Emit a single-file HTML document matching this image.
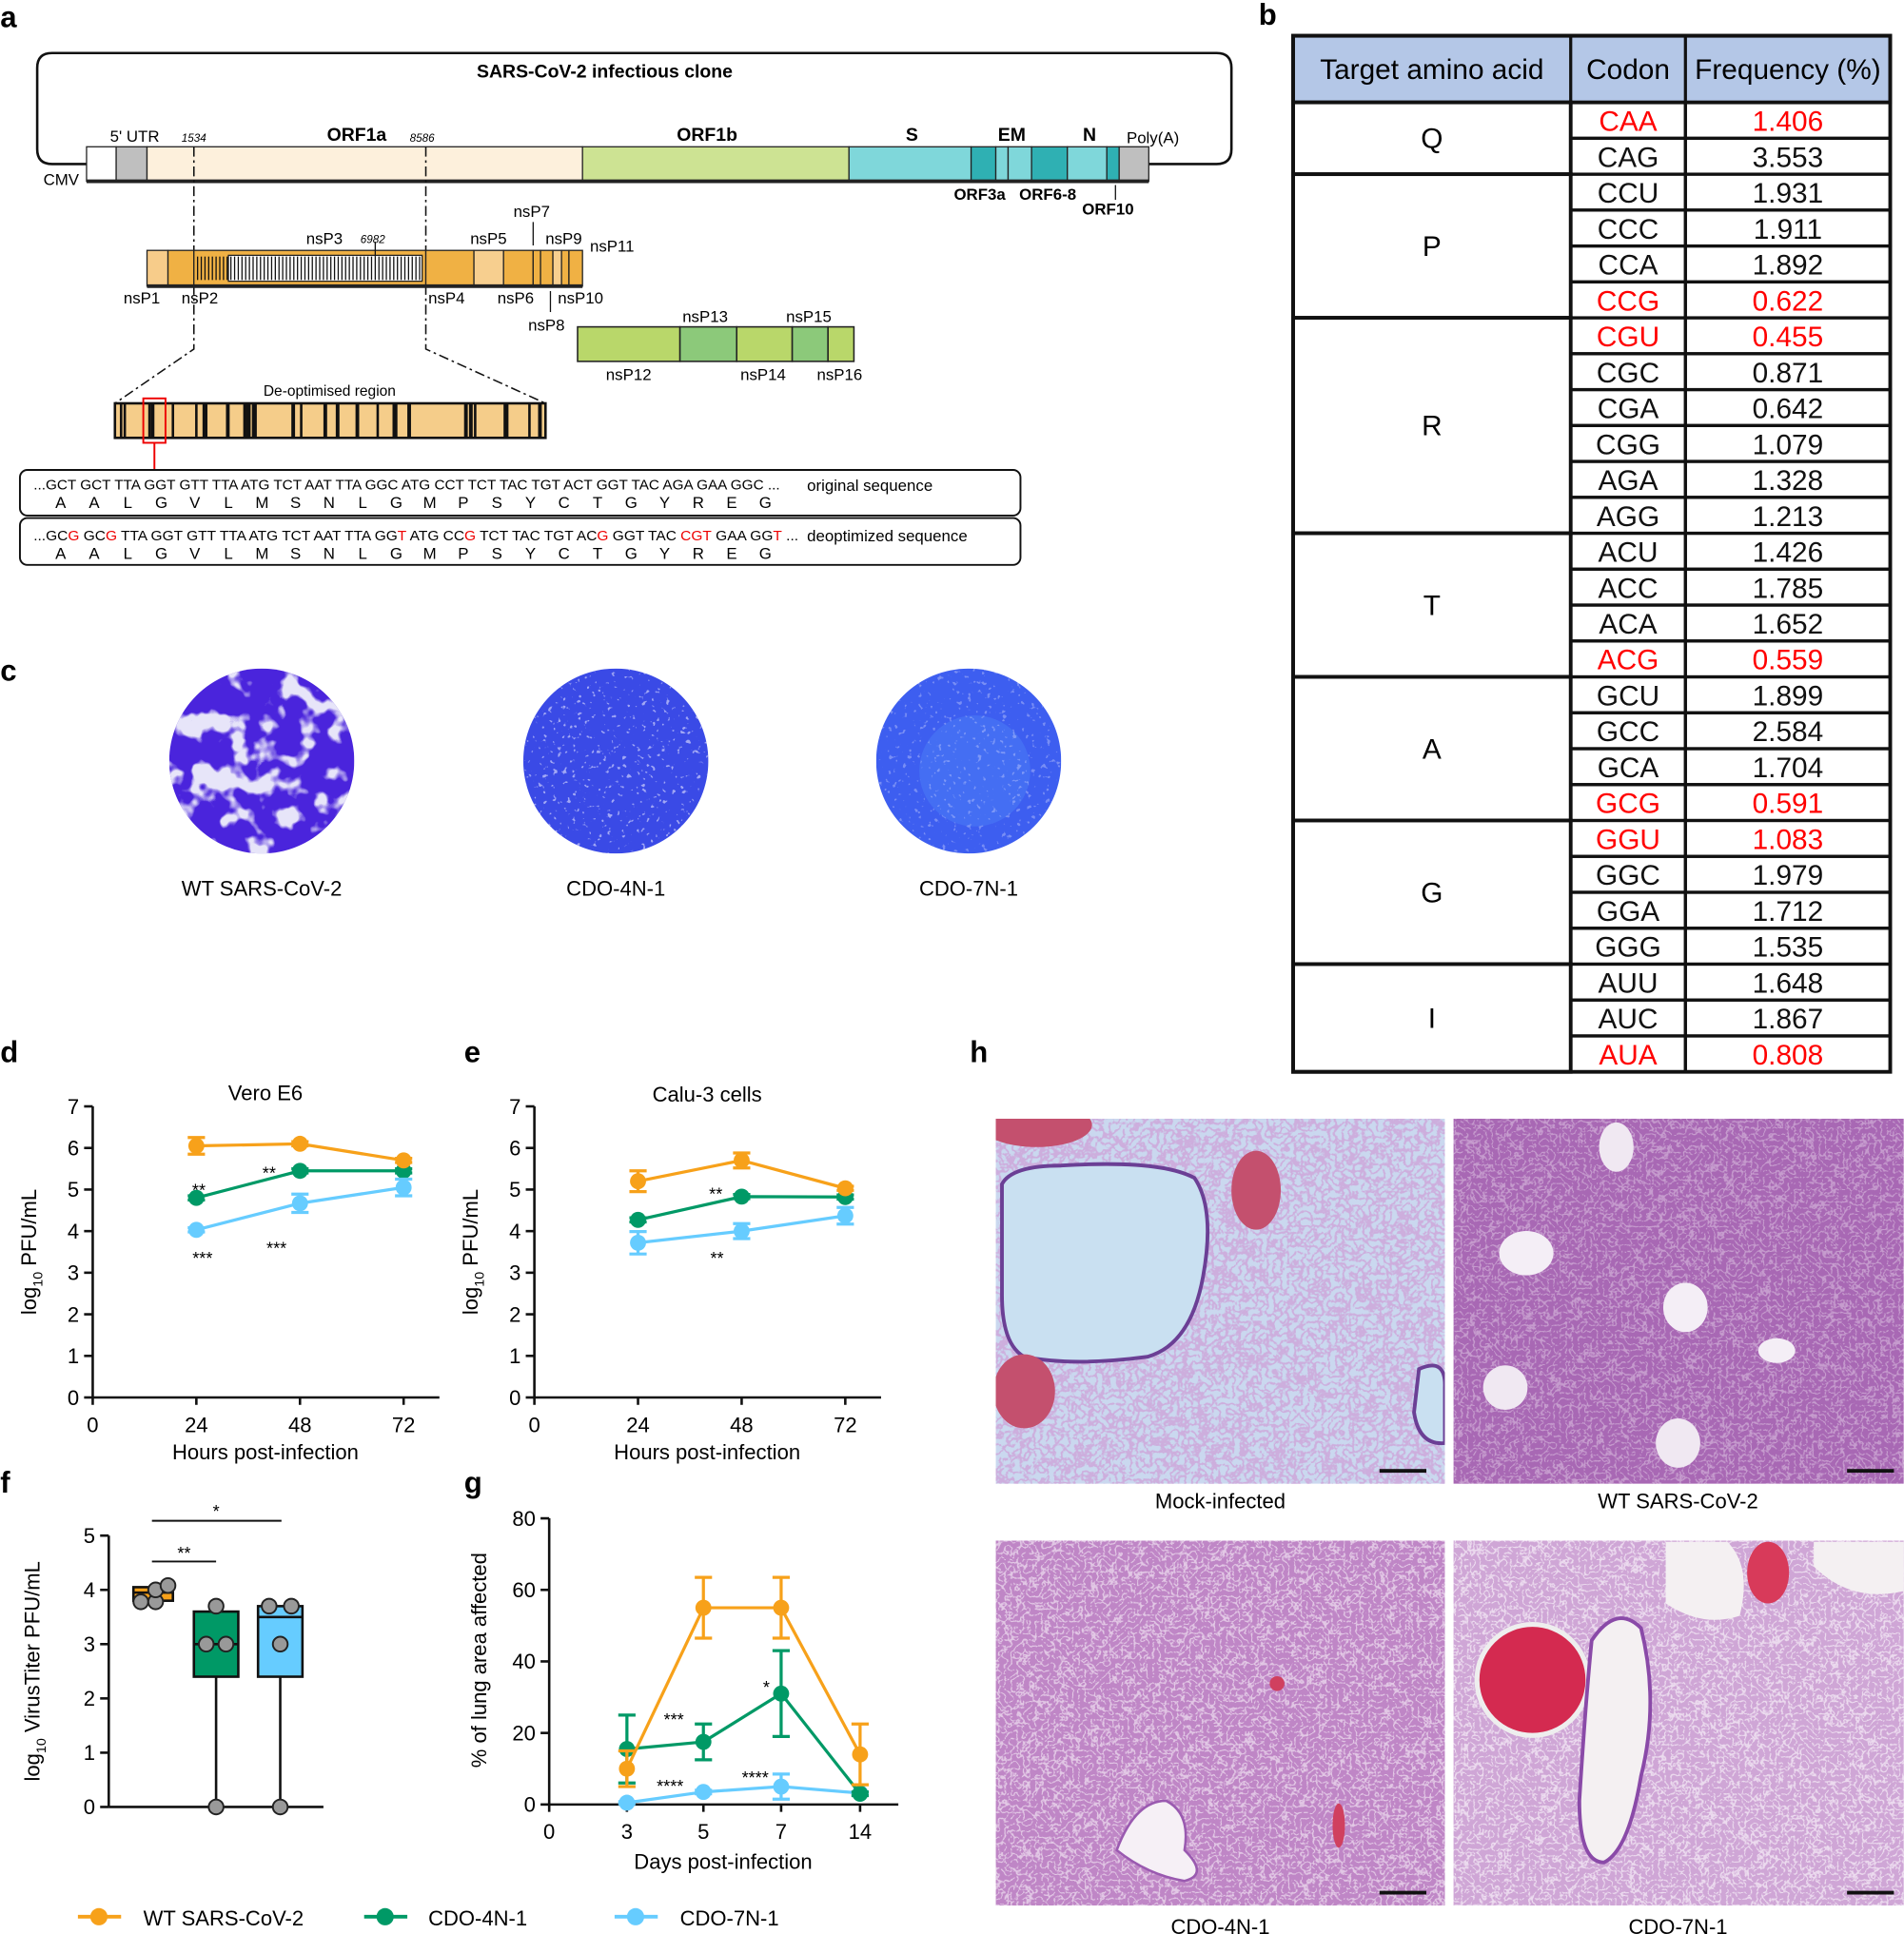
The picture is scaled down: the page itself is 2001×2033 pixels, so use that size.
<!DOCTYPE html>
<html><head><meta charset="utf-8"><style>
html,body{margin:0;padding:0;background:#fff}
svg{display:block}
text{font-family:"Liberation Sans",Arial,sans-serif}
</style></head><body>
<svg id="fig" width="2001" height="2033" viewBox="0 0 1543 1568" xmlns="http://www.w3.org/2000/svg">
<defs>
<filter id="blobs" x="0" y="0" width="100%" height="100%"><feTurbulence type="fractalNoise" baseFrequency="0.045" numOctaves="3" seed="3"/><feColorMatrix type="matrix" values="0 0 0 0 0.8  0 0 0 0 0.78  0 0 0 0 0.95  9 0 0 0 -4.6"/></filter>
<filter id="specks" x="0" y="0" width="100%" height="100%"><feTurbulence type="fractalNoise" baseFrequency="0.25" numOctaves="2" seed="7"/><feColorMatrix type="matrix" values="0 0 0 0 0.8  0 0 0 0 0.8  0 0 0 0 1  14 0 0 0 -9.2"/></filter>
<filter id="mesh" x="0" y="0" width="100%" height="100%"><feTurbulence type="turbulence" baseFrequency="0.18" numOctaves="2" seed="2"/><feColorMatrix type="matrix" values="0 0 0 0 0.62  0 0 0 0 0.35  0 0 0 0 0.68  -6 0 0 0 1.9"/></filter>
<filter id="mesh2" x="0" y="0" width="100%" height="100%"><feTurbulence type="turbulence" baseFrequency="0.2" numOctaves="2" seed="5"/><feColorMatrix type="matrix" values="0 0 0 0 1  0 0 0 0 1  0 0 0 0 1  -7 0 0 0 1.6"/></filter>
<clipPath id="c1"><circle cx="212" cy="617" r="75"/></clipPath>
<clipPath id="c2"><circle cx="499" cy="617" r="75"/></clipPath>
<clipPath id="c3"><circle cx="785" cy="617" r="75"/></clipPath>
<clipPath id="h1"><rect x="807" y="907" width="364" height="296"/></clipPath>
<clipPath id="h2"><rect x="1178" y="907" width="365" height="296"/></clipPath>
<clipPath id="h3"><rect x="807" y="1249" width="364" height="296"/></clipPath>
<clipPath id="h4"><rect x="1178" y="1249" width="365" height="296"/></clipPath>
</defs>

<!-- Panel a -->
<g>
<text x="0" y="22" font-size="24" font-weight="bold">a</text>
<path d="M70 133 H42 Q30 133 30 121 V55 Q30 43 42 43 H986 Q998 43 998 55 V121 Q998 133 986 133 H930" fill="none" stroke="#111" stroke-width="2"/>
<text x="490" y="63" font-size="15" font-weight="bold" text-anchor="middle">SARS-CoV-2 infectious clone</text>
<g stroke="#222" stroke-width="1">
<rect x="70" y="119" width="24" height="28" fill="#fff"/>
<rect x="94" y="119" width="25" height="28" fill="#bfbfbf"/>
<rect x="119" y="119" width="353" height="28" fill="#fdf0dc"/>
<rect x="472" y="119" width="216" height="28" fill="#cde393"/>
<rect x="688" y="119" width="99" height="28" fill="#7fd7da"/>
<rect x="787" y="119" width="20" height="28" fill="#2fb0b3"/>
<rect x="807" y="119" width="10" height="28" fill="#7fd7da"/>
<rect x="817" y="119" width="19" height="28" fill="#7fd7da"/>
<rect x="836" y="119" width="29" height="28" fill="#2fb0b3"/>
<rect x="865" y="119" width="32" height="28" fill="#7fd7da"/>
<rect x="897" y="119" width="10" height="28" fill="#2fb0b3"/>
<rect x="907" y="119" width="24" height="28" fill="#bfbfbf"/>
<line x1="70" y1="147" x2="931" y2="147" stroke-width="3"/>
</g>
<g font-size="13">
<text x="89" y="115">5' UTR</text>
<text x="147" y="115" font-size="9" font-style="italic">1534</text>
<text x="289" y="114" font-weight="bold" font-size="15" text-anchor="middle">ORF1a</text>
<text x="332" y="115" font-size="9" font-style="italic">8586</text>
<text x="573" y="114" font-weight="bold" font-size="15" text-anchor="middle">ORF1b</text>
<text x="739" y="114" font-weight="bold" font-size="15" text-anchor="middle">S</text>
<text x="820" y="114" font-weight="bold" font-size="15" text-anchor="middle">EM</text>
<text x="883" y="114" font-weight="bold" font-size="15" text-anchor="middle">N</text>
<text x="913" y="116">Poly(A)</text>
<text x="35" y="150">CMV</text>
<text x="773" y="162" font-weight="bold">ORF3a</text>
<text x="826" y="162" font-weight="bold">ORF6-8</text>
<text x="877" y="174" font-weight="bold">ORF10</text>
</g>
<line x1="904" y1="150" x2="904" y2="162" stroke="#111"/>
<g stroke="#111" stroke-width="1.2" stroke-dasharray="8 3 2 3" fill="none">
<path d="M157 119 V283 L93 327"/><path d="M345 119 V283 L442 327"/>
</g>
<g stroke="#222" stroke-width="1">
<rect x="119" y="203" width="17" height="29" fill="#f7cc8a"/>
<rect x="136" y="203" width="21" height="29" fill="#f0b144"/>
<rect x="157" y="203" width="188" height="29" fill="#f0b144"/>
<rect x="185" y="207" width="157" height="21" fill="#fff"/>
<rect x="345" y="203" width="39" height="29" fill="#f0b144"/>
<rect x="384" y="203" width="24" height="29" fill="#f7cf8f"/>
<rect x="408" y="203" width="24" height="29" fill="#f0b144"/>
<rect x="432" y="203" width="6" height="29" fill="#f0b144"/>
<rect x="438" y="203" width="10" height="29" fill="#f0b144"/>
<rect x="448" y="203" width="7" height="29" fill="#f7cf8f"/>
<rect x="455" y="203" width="6" height="29" fill="#f0b144"/>
<rect x="461" y="203" width="11" height="29" fill="#f0b144"/>
<line x1="119" y1="232" x2="472" y2="232" stroke-width="3"/>
</g>
<g id="hatch" stroke="#111" stroke-width="1"></g>
<line x1="304" y1="196" x2="304" y2="208" stroke="#111"/>
<g font-size="13">
<text x="248" y="198">nsP3</text><text x="292" y="197" font-size="9" font-style="italic">6982</text>
<text x="381" y="198">nsP5</text><text x="416" y="176">nsP7</text><text x="442" y="198">nsP9</text><text x="478" y="204">nsP11</text>
<text x="100" y="246">nsP1</text><text x="147" y="246">nsP2</text><text x="347" y="246">nsP4</text><text x="403" y="246">nsP6</text><text x="452" y="246">nsP10</text><text x="428" y="268">nsP8</text>
<text x="553" y="261">nsP13</text><text x="637" y="261">nsP15</text><text x="491" y="308">nsP12</text><text x="600" y="308">nsP14</text><text x="662" y="308">nsP16</text>
</g>
<line x1="432" y1="180" x2="432" y2="199" stroke="#111"/>
<line x1="446" y1="236" x2="446" y2="253" stroke="#111"/>
<g stroke="#222" stroke-width="1.2">
<rect x="468" y="265" width="83" height="28" fill="#b9d76a"/>
<rect x="551" y="265" width="46" height="28" fill="#8cc97a"/>
<rect x="597" y="265" width="45" height="28" fill="#b9d76a"/>
<rect x="642" y="265" width="29" height="28" fill="#8cc97a"/>
<rect x="671" y="265" width="21" height="28" fill="#b9d76a"/>
</g>
<text x="267" y="321" font-size="12" text-anchor="middle">De-optimised region</text>
<rect x="93" y="327" width="349" height="28" fill="#f5cd8a" stroke="#111" stroke-width="2"/>
<g id="stripes" fill="#111"></g>
<rect x="116" y="323" width="18" height="36" fill="none" stroke="#e00" stroke-width="1.5"/>
<line x1="125" y1="359" x2="125" y2="381" stroke="#e00" stroke-width="1.5"/>
<rect x="16" y="381" width="811" height="37" rx="6" fill="#fff" stroke="#111" stroke-width="1.5"/>
<rect x="16" y="420" width="811" height="38" rx="6" fill="#fff" stroke="#111" stroke-width="1.5"/>
<text x="27" y="397" font-size="11.5" textLength="605" lengthAdjust="spacingAndGlyphs">...GCT GCT  TTA GGT GTT TTA ATG TCT AAT TTA GGC ATG CCT TCT TAC TGT ACT GGT TAC AGA GAA GGC ...</text>
<text x="654" y="398" font-size="13">original sequence</text>
<text x="27" y="438" font-size="11.5" textLength="620" lengthAdjust="spacingAndGlyphs">...GC<tspan fill="#e00">G</tspan> GC<tspan fill="#e00">G</tspan> TTA GGT GTT TTA ATG TCT AAT TTA GG<tspan fill="#e00">T</tspan> ATG CC<tspan fill="#e00">G</tspan> TCT TAC TGT AC<tspan fill="#e00">G</tspan> GGT TAC <tspan fill="#e00">CGT</tspan> GAA GG<tspan fill="#e00">T</tspan> ...</text>
<text x="654" y="439" font-size="13">deoptimized sequence</text>
<g id="aa" font-size="13" text-anchor="middle"></g>
</g>

<!-- Panel b -->
<g>
<text x="1020" y="20" font-size="24" font-weight="bold">b</text>
<g id="table"></g>
</g>

<!-- Panel c -->
<g>
<text x="0" y="552" font-size="24" font-weight="bold">c</text>
<g clip-path="url(#c1)"><rect x="137" y="542" width="150" height="150" fill="#4a24dc"/><rect x="137" y="542" width="150" height="150" filter="url(#blobs)"/></g>
<g clip-path="url(#c2)"><rect x="424" y="542" width="150" height="150" fill="#3a4ae6"/><rect x="424" y="542" width="150" height="150" filter="url(#specks)" opacity="0.6"/></g>
<g clip-path="url(#c3)"><rect x="710" y="542" width="150" height="150" fill="#3d5ef0"/><circle cx="790" cy="625" r="45" fill="#4a7af5" opacity="0.6"/><rect x="710" y="542" width="150" height="150" filter="url(#specks)" opacity="0.35"/></g>
<g font-size="17" text-anchor="middle">
<text x="212" y="726">WT SARS-CoV-2</text><text x="499" y="726">CDO-4N-1</text><text x="785" y="726">CDO-7N-1</text></g>
</g>

<text x="0" y="861" font-size="24" font-weight="bold">d</text>
<text x="376" y="861" font-size="24" font-weight="bold">e</text>
<text x="0" y="1210" font-size="24" font-weight="bold">f</text>
<text x="376" y="1210" font-size="24" font-weight="bold">g</text>
<text x="786" y="861" font-size="24" font-weight="bold">h</text>
<g id="charts"></g>

<!-- Panel h -->
<g>
<g clip-path="url(#h1)">
<rect x="807" y="907" width="364" height="296" fill="#cad8ef"/>
<rect x="807" y="907" width="364" height="296" filter="url(#mesh)" opacity="0.75"/>
<path d="M812 960 Q820 945 860 945 Q940 940 968 955 Q985 980 975 1035 Q965 1090 930 1100 Q870 1108 830 1100 Q812 1090 812 1050 Z" fill="#c9e0f1" stroke="#6b3f95" stroke-width="3"/>
<ellipse cx="1018" cy="965" rx="20" ry="32" fill="#c4506e"/>
<ellipse cx="830" cy="1128" rx="25" ry="30" fill="#c4506e"/>
<ellipse cx="840" cy="912" rx="45" ry="18" fill="#c4506e"/>
<path d="M1150 1110 Q1172 1100 1171 1125 V1170 Q1150 1172 1146 1145 Z" fill="#c9e0f1" stroke="#6b3f95" stroke-width="3"/>
<rect x="1118" y="1191" width="38" height="3" fill="#111"/>
</g>
<g clip-path="url(#h2)">
<rect x="1178" y="907" width="365" height="296" fill="#a868b4"/>
<rect x="1178" y="907" width="365" height="296" filter="url(#mesh2)" opacity="0.35"/>
<ellipse cx="1237" cy="1016" rx="22" ry="18" fill="#f4eef6"/><ellipse cx="1366" cy="1060" rx="18" ry="20" fill="#f4eef6"/><ellipse cx="1220" cy="1125" rx="18" ry="18" fill="#f0e8f2"/><ellipse cx="1310" cy="930" rx="14" ry="20" fill="#f0e8f2"/><ellipse cx="1360" cy="1170" rx="18" ry="20" fill="#f0e8f2"/><ellipse cx="1440" cy="1095" rx="15" ry="10" fill="#f4eef6"/>
<rect x="1497" y="1191" width="38" height="3" fill="#111"/>
</g>
<g clip-path="url(#h3)">
<rect x="807" y="1249" width="364" height="296" fill="#bf86c6"/>
<rect x="807" y="1249" width="364" height="296" filter="url(#mesh2)" opacity="0.55"/>
<path d="M905 1500 Q920 1460 945 1460 Q965 1470 960 1500 Q980 1520 960 1525 Q930 1520 905 1500 Z" fill="#f6f0f6" stroke="#9a5ab0" stroke-width="2"/>
<circle cx="1035" cy="1365" r="6" fill="#d0405f"/><ellipse cx="1085" cy="1480" rx="5" ry="18" fill="#d0405f"/>
<rect x="1118" y="1533" width="38" height="3" fill="#111"/>
</g>
<g clip-path="url(#h4)">
<rect x="1178" y="1249" width="365" height="296" fill="#cfa6d6"/>
<rect x="1178" y="1249" width="365" height="296" filter="url(#mesh2)" opacity="0.6"/>
<circle cx="1242" cy="1362" r="45" fill="#d42a50" stroke="#eee" stroke-width="4"/>
<path d="M1290 1330 Q1310 1300 1330 1320 Q1345 1380 1330 1440 Q1320 1500 1300 1510 Q1280 1510 1280 1460 Q1285 1380 1290 1330 Z" fill="#f4f0f2" stroke="#8a4aa8" stroke-width="3"/>
<path d="M1350 1250 H1400 Q1420 1270 1410 1310 Q1380 1320 1350 1300 Z" fill="#f4f0f2"/>
<path d="M1470 1250 H1543 V1290 Q1500 1300 1470 1270 Z" fill="#f4f0f2"/>
<ellipse cx="1433" cy="1275" rx="17" ry="25" fill="#d83a5a"/>
<rect x="1497" y="1533" width="38" height="3" fill="#111"/>
</g>
<g font-size="17" text-anchor="middle">
<text x="989" y="1223">Mock-infected</text><text x="1360" y="1223">WT SARS-CoV-2</text><text x="989" y="1568">CDO-4N-1</text><text x="1360" y="1568">CDO-7N-1</text></g>
</g>
</svg>
<script>
// ---- data ----
var tableGroups = ["Q","P","R","T","A","G","I"];
var tableCodons = [["CAA","CAG"],["CCU","CCC","CCA","CCG"],["CGU","CGC","CGA","CGG","AGA","AGG"],["ACU","ACC","ACA","ACG"],["GCU","GCC","GCA","GCG"],["GGU","GGC","GGA","GGG"],["AUU","AUC","AUA"]];
var tableFreq = [["1.406","3.553"],["1.931","1.911","1.892","0.622"],["0.455","0.871","0.642","1.079","1.328","1.213"],["1.426","1.785","1.652","0.559"],["1.899","2.584","1.704","0.591"],["1.083","1.979","1.712","1.535"],["1.648","1.867","0.808"]];
var tableRed = [["CAA"],["CCG"],["CGU"],["ACG"],["GCG"],["GGU"],["AUA"]];
var aminoLetters = ["A","A","L","G","V","L","M","S","N","L","G","M","P","S","Y","C","T","G","Y","R","E","G"];

var hoursCats = [24, 48, 72];
var veroWT = [6.05, 6.1, 5.7];
var vero4N = [4.8, 5.45, 5.45];
var vero7N = [4.03, 4.67, 5.05];
var veroWTerr = [0.2, 0.05, 0.05];
var vero4Nerr = [0.05, 0.05, 0.05];
var vero7Nerr = [0.05, 0.22, 0.2];
var caluWT = [5.2, 5.7, 5.03];
var calu4N = [4.27, 4.83, 4.82];
var calu7N = [3.72, 4.0, 4.37];
var caluWTerr = [0.25, 0.18, 0.05];
var calu4Nerr = [0.05, 0.05, 0.05];
var calu7Nerr = [0.27, 0.18, 0.2];
var logTicks = [0,1,2,3,4,5,6,7];
var hourTicks = [0,24,48,72];

var boxGroups = ["WT","4N","7N"];
var boxQ1 = [3.8, 2.4, 2.4];
var boxMed = [3.95, 3.0, 3.5];
var boxQ3 = [4.05, 3.6, 3.7];
var boxMin = [3.78, 0, 0];
var boxMax = [4.08, 3.7, 3.7];
var boxPoints = [[3.78,3.78,4.0,4.08],[3.7,3.0,3.0,0],[3.7,3.7,3.0,0]];
var boxTicks = [0,1,2,3,4,5];

var dayCats = ["3","5","7","14"];
var lungWT = [10, 55, 55, 14];
var lungWTerr = [5, 8.5, 8.5, 8.5];
var lung4N = [15.5, 17.5, 31, 3];
var lung4Nerr = [9.5, 5, 12, 0.5];
var lung7N = [0.5, 3.5, 5, 3.2];
var lung7Nerr = [0.3, 0.5, 3.5, 0.3];
var lungTicks = [0,20,40,60,80];

var colWT="#f7a11a", col4N="#009966", col7N="#66ccff";
var NS="http://www.w3.org/2000/svg";
function mk(tag, attrs, parent, txt){var e=document.createElementNS(NS,tag);for(var k in attrs)e.setAttribute(k,attrs[k]);if(txt!==undefined)e.textContent=txt;(parent||document.getElementById('charts')).appendChild(e);return e;}

var hatch=document.getElementById('hatch');
for(var hx=160;hx<342;hx+=3){mk('line',{x1:hx,y1:208,x2:hx,y2:227},hatch);}
var stripeX=[97,100,120,122,139,158,164,183,197,200,204,236,243,262,272,288,305,318,330,376,380,384,408,428,436];
var stripeW=[2,2,2,3,2,2,4,3,3,3,4,3,2,3,3,3,2,4,3,3,3,2,4,2,3];
var st=document.getElementById('stripes');
for(var s=0;s<stripeX.length;s++){mk('rect',{x:stripeX[s],y:327,width:stripeW[s],height:28},st);}
var aaX0=49, aaDX=27.2, aag=document.getElementById('aa');
aminoLetters.forEach(function(l,i){mk('text',{x:aaX0+i*aaDX,y:412},aag,l);mk('text',{x:aaX0+i*aaDX,y:453},aag,l);});

(function(){
var t=document.getElementById('table');
var x0=1048,x1=1273,x2=1366,x3=1532,y0=29,yh=83,rh=(869-83)/27;
var hdr=mk('rect',{x:x0,y:y0,width:x3-x0,height:yh-y0,fill:"#b4c7e7",stroke:"#111","stroke-width":3},t);


mk('line',{x1:x1,y1:y0,x2:x1,y2:yh,stroke:"#111","stroke-width":2.5},t);
mk('line',{x1:x2,y1:y0,x2:x2,y2:yh,stroke:"#111","stroke-width":2.5},t);
var hs=[["Target amino acid",(x0+x1)/2],["Codon",(x1+x2)/2],["Frequency (%)",(x2+x3)/2]];
hs.forEach(function(h){mk('text',{x:h[1],y:64,"font-size":23,"text-anchor":"middle"},t,h[0]);});
var r=0;
tableGroups.forEach(function(g,gi){
  var n=tableCodons[gi].length, gy=yh+r*rh;
  var gr=mk('rect',{x:x0,y:gy,width:x1-x0,height:n*rh,fill:"#fff",stroke:"#111","stroke-width":3},t);
  
  
  mk('text',{x:(x0+x1)/2,y:gy+n*rh/2+8,"font-size":23,"text-anchor":"middle"},t,g);
  tableCodons[gi].forEach(function(c,ci){
    var y=yh+(r+ci)*rh, red=tableRed[gi].indexOf(c)>=0, col=red?"#ff0000":"#111";
    mk('rect',{x:x1,y:y,width:x2-x1,height:rh,fill:"none",stroke:"#111","stroke-width":2.5},t);
    mk('rect',{x:x2,y:y,width:x3-x2,height:rh,fill:"none",stroke:"#111","stroke-width":2.5},t);
    mk('text',{x:(x1+x2)/2,y:y+rh-6,"font-size":23,"text-anchor":"middle",fill:col},t,c);
    mk('text',{x:(x2+x3)/2,y:y+rh-6,"font-size":23,"text-anchor":"middle",fill:col},t,tableFreq[gi][ci]);
  });
  r+=n;
});
mk('rect',{x:x0,y:y0,width:x3-x0,height:869-y0,fill:"none",stroke:"#111","stroke-width":3},t);
})();

function axes(g,ax){
  mk('line',{x1:ax.x0,y1:ax.yTop,x2:ax.x0,y2:ax.y0,stroke:"#111","stroke-width":2},g);
  mk('line',{x1:ax.x0,y1:ax.y0,x2:ax.xEnd,y2:ax.y0,stroke:"#111","stroke-width":2},g);
  ax.yticks.forEach(function(v){var y=ax.ys(v);mk('line',{x1:ax.x0-7,y1:y,x2:ax.x0,y2:y,stroke:"#111","stroke-width":2},g);mk('text',{x:ax.x0-11,y:y+6,"font-size":17,"text-anchor":"end"},g,String(v));});
}
function series(g,xs,vals,errs,col,name){
  var sg=mk('g',{},g);
  
  
  var pts=vals.map(function(v,i){return [xs[i],v];});
  mk('polyline',{points:pts.map(function(p){return p[0]+","+p[1].y;}).join(" "),fill:"none",stroke:col,"stroke-width":2.5},sg);
  pts.forEach(function(p){
    if(p[1].lo!==undefined){mk('line',{x1:p[0],y1:p[1].lo,x2:p[0],y2:p[1].hi,stroke:col,"stroke-width":2.5},sg);
      [p[1].lo,p[1].hi].forEach(function(yy){mk('line',{x1:p[0]-7,y1:yy,x2:p[0]+7,y2:yy,stroke:col,"stroke-width":2.5},sg);});}
    var c=mk('circle',{cx:p[0],cy:p[1].y,r:6.5,fill:col},sg);
    
    
  });
}
function lineChart(cfg){
  var g=mk('g',{});
  
  
  var x0=cfg.x0,y0=1133,yTop=897,xEnd=cfg.x0+281;
  var ys=function(v){return y0-(v/7)*(y0-yTop);};
  var xs=function(h){return x0+h*3.5;};
  axes(g,{x0:x0,y0:y0,yTop:yTop,xEnd:xEnd,ys:ys,yticks:logTicks});
  hourTicks.forEach(function(h){var x=xs(h);mk('line',{x1:x,y1:y0,x2:x,y2:y0+6,stroke:"#111","stroke-width":2},g);mk('text',{x:x,y:1161,"font-size":17,"text-anchor":"middle"},g,String(h));});
  mk('text',{x:x0+140,y:1183,"font-size":17,"text-anchor":"middle"},g,"Hours post-infection");
  mk('text',{x:x0+140,y:cfg.titleY,"font-size":17,"text-anchor":"middle"},g,cfg.title);
  var yt=mk('text',{transform:"translate("+(x0-46)+",1015) rotate(-90)","font-size":17,"text-anchor":"middle"},g);
  yt.innerHTML='log<tspan font-size="11" dy="5">10</tspan><tspan dy="-5"> PFU/mL</tspan>';
  var X=hoursCats.map(xs);
  [[cfg.s4N,cfg.e4N,col4N,"series-cdo-4n-1"],[cfg.s7N,cfg.e7N,col7N,"series-cdo-7n-1"],[cfg.sWT,cfg.eWT,colWT,"series-wt"]].forEach(function(s){
    series(g,X,s[0].map(function(v,i){return {y:ys(v),lo:ys(v-s[1][i]),hi:ys(v+s[1][i])};}),null,s[2],s[3]);
  });
  cfg.stars.forEach(function(st){mk('text',{x:st[0],y:st[1],"font-size":14,"text-anchor":"middle"},g,st[2]);});
}
lineChart({name:"chart-vero-e6",x0:75,title:"Vero E6",titleY:892,sWT:veroWT,s4N:vero4N,s7N:vero7N,eWT:veroWTerr,e4N:vero4Nerr,e7N:vero7Nerr,stars:[[161,970,"**"],[218,956,"**"],[164,1025,"***"],[224,1017,"***"]]});
lineChart({name:"chart-calu-3",x0:433,title:"Calu-3 cells",titleY:893,sWT:caluWT,s4N:calu4N,s7N:calu7N,eWT:caluWTerr,e4N:calu4Nerr,e7N:calu7Nerr,stars:[[580,973,"**"],[581,1025,"**"]]});

(function(){
  var g=mk('g',{});
  
  
  var x0=88,y0=1465,yTop=1245;
  var ys=function(v){return y0-(v/5)*(y0-yTop);};
  axes(g,{x0:x0,y0:y0,yTop:yTop,xEnd:262,ys:ys,yticks:boxTicks});
  var cx=[124,175,227],w=[32,36,36],fills=[colWT,col4N,col7N];
  boxGroups.forEach(function(b,i){
    var bg=mk('g',{},g);
    
    
    mk('line',{x1:cx[i],y1:ys(boxMin[i]),x2:cx[i],y2:ys(boxMax[i]),stroke:"#111","stroke-width":2},bg);
    mk('rect',{x:cx[i]-w[i]/2,y:ys(boxQ3[i]),width:w[i],height:ys(boxQ1[i])-ys(boxQ3[i]),fill:fills[i],stroke:"#111","stroke-width":2},bg);
    mk('line',{x1:cx[i]-w[i]/2,y1:ys(boxMed[i]),x2:cx[i]+w[i]/2,y2:ys(boxMed[i]),stroke:"#111","stroke-width":2},bg);
    var pts=boxPoints[i], offs=i==0?[-10,2,2,12]:[0,-8,8,0];
    if(i==2) offs=[-9,9,0,0];
    pts.forEach(function(v,j){mk('circle',{cx:cx[i]+offs[j],cy:ys(v),r:6,fill:"#999",stroke:"#222","stroke-width":1.5},bg);});
  });
  mk('line',{x1:123,y1:1233,x2:228,y2:1233,stroke:"#111","stroke-width":1.5},g);
  mk('text',{x:175,y:1230,"font-size":14,"text-anchor":"middle"},g,"*");
  mk('line',{x1:123,y1:1266,x2:175,y2:1266,stroke:"#111","stroke-width":1.5},g);
  mk('text',{x:149,y:1264,"font-size":14,"text-anchor":"middle"},g,"**");
  var yt=mk('text',{transform:"translate(32,1355) rotate(-90)","font-size":17,"text-anchor":"middle"},g);
  yt.innerHTML='log<tspan font-size="11" dy="5">10</tspan><tspan dy="-5"> VirusTiter PFU/mL</tspan>';
})();

(function(){
  var g=mk('g',{});
  
  
  var x0=445,y0=1463,yTop=1231;
  var ys=function(v){return y0-(v/80)*(y0-yTop);};
  axes(g,{x0:x0,y0:y0,yTop:yTop,xEnd:728,ys:ys,yticks:lungTicks});
  var X=[508,570,633,697];
  mk('line',{x1:x0,y1:y0,x2:x0,y2:y0+6,stroke:"#111","stroke-width":2},g);
  mk('text',{x:x0,y:1491,"font-size":17,"text-anchor":"middle"},g,"0");
  dayCats.forEach(function(d,i){mk('line',{x1:X[i],y1:y0,x2:X[i],y2:y0+6,stroke:"#111","stroke-width":2},g);mk('text',{x:X[i],y:1491,"font-size":17,"text-anchor":"middle"},g,d);});
  mk('text',{x:586,y:1515,"font-size":17,"text-anchor":"middle"},g,"Days post-infection");
  mk('text',{transform:"translate(394,1346) rotate(-90)","font-size":17,"text-anchor":"middle"},g,"% of lung area affected");
  [[lung7N,lung7Nerr,col7N,"series-cdo-7n-1"],[lung4N,lung4Nerr,col4N,"series-cdo-4n-1"],[lungWT,lungWTerr,colWT,"series-wt"]].forEach(function(s){
    series(g,X,s[0].map(function(v,i){return {y:ys(v),lo:ys(Math.max(0,v-s[1][i])),hi:ys(v+s[1][i])};}),null,s[2],s[3]);
  });
  [[546,1399,"***"],[621,1373,"*"],[543,1453,"****"],[612,1446,"****"]].forEach(function(st){mk('text',{x:st[0],y:st[1],"font-size":14,"text-anchor":"middle"},g,st[2]);});
})();

(function(){
  var g=mk('g',{});
  
  
  var items=[["WT SARS-CoV-2",colWT,63,116],["CDO-4N-1",col4N,295,347],["CDO-7N-1",col7N,498,551]];
  items.forEach(function(it){
    var e=mk('g',{},g);
    
    
    mk('line',{x1:it[2],y1:1554,x2:it[2]+35,y2:1554,stroke:it[1],"stroke-width":3},e);
    mk('circle',{cx:it[2]+17,cy:1554,r:7,fill:it[1]},e);
    mk('text',{x:it[3],y:1561,"font-size":17},e,it[0]);
  });
})();
</script>
</body></html>
